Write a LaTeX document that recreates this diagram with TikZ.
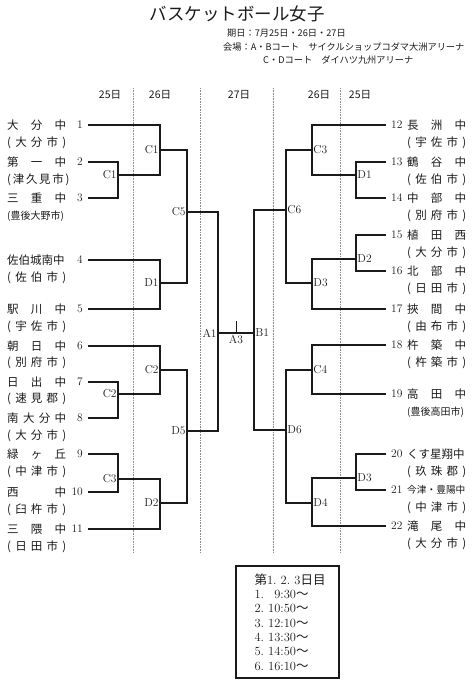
\documentclass[tikz,border=0pt]{standalone}
\usepackage{fontspec}
\newfontfamily\cjk{Noto Sans CJK JP}
\usetikzlibrary{positioning, calc}
\definecolor{ink}{HTML}{1A1A1A}
\definecolor{guide}{HTML}{8C8C8C}
\newcommand{\spreadname}[1]{\makebox[59pt][s]{#1}}

\begin{document}
\begin{tikzpicture}[x=1pt, y=-1pt,
  wire/.style={draw=ink, line width=1.3pt},
  dayline/.style={draw=guide, densely dotted, line width=0.6pt},
  num/.style={inner sep=0pt, font=\fontsize{11.5}{12}\selectfont, text=ink},
  team/.style={anchor=west, inner sep=0pt, font=\cjk\fontsize{11.5}{13}\selectfont, text=ink},
  smallcity/.style={team, font=\cjk\fontsize{10}{11}\selectfont},
  mleft/.style={anchor=east, inner sep=1.2pt, font=\fontsize{11.5}{12}\selectfont, text=ink},
  mright/.style={anchor=west, inner sep=1.2pt, font=\fontsize{11.5}{12}\selectfont, text=ink},
  day/.style={font=\cjk\fontsize{10.5}{12}\selectfont, text=ink},
  info/.style={anchor=west, inner sep=0pt, font=\cjk\fontsize{9.2}{11}\selectfont, text=ink},
  timebox/.style={draw=ink, line width=1.3pt, minimum width=103pt, minimum height=112pt,
                  text width=66pt, inner xsep=18.5pt, align=left,
                  font=\fontsize{12.5}{14.3}\selectfont, text=ink}
]
\useasboundingbox (0,0) rectangle (474,687);

\node[font=\cjk\fontsize{17.5}{20}\selectfont, text=ink] (title) at (237,14) {バスケットボール女子};
\node[info] (dates) at (227,33) {期日：7月25日・26日・27日};
\node[info] (venue1) at (223,47) {会場：A・Bコート　サイクルショップコダマ大洲アリーナ};
\node[info] (venue2) at (263,60) {C・Dコート　ダイハツ九州アリーナ};

\node[day] (d25l) at (110,95) {25日};
\node[day] (d26l) at (160,95) {26日};
\node[day] (d27) at (239,95) {27日};
\node[day] (d26r) at (319,95) {26日};
\node[day] (d25r) at (360,95) {25日};
\draw[dayline] (133,88) -- (133,553);
\draw[dayline] (200,88) -- (200,553);
\draw[dayline] (273,88) -- (273,553);
\draw[dayline] (340,88) -- (340,553);

\node[num, anchor=east] (t1) at (83,125) {1};
\node[team] (n1) at (7,125) {\spreadname{大 分 中}};
\node[team] (c1) at (7,143) {\spreadname{( 大 分 市 )}};
\node[num, anchor=east] (t2) at (83,162) {2};
\node[team] (n2) at (7,162) {\spreadname{第 一 中}};
\node[team] (c2) at (7,180) {\spreadname{( 津 久 見 市 )}};
\node[num, anchor=east] (t3) at (83,198) {3};
\node[team] (n3) at (7,198) {\spreadname{三 重 中}};
\node[smallcity] (c3) at (7,216) {(豊後大野市)};
\node[num, anchor=east] (t4) at (83,260) {4};
\node[team] (n4) at (7,260) {\spreadname{佐伯城南中}};
\node[team] (c4) at (7,278) {\spreadname{( 佐 伯 市 )}};
\node[num, anchor=east] (t5) at (83,309) {5};
\node[team] (n5) at (7,309) {\spreadname{駅 川 中}};
\node[team] (c5) at (7,327) {\spreadname{( 宇 佐 市 )}};
\node[num, anchor=east] (t6) at (83,346) {6};
\node[team] (n6) at (7,346) {\spreadname{朝 日 中}};
\node[team] (c6) at (7,363) {\spreadname{( 別 府 市 )}};
\node[num, anchor=east] (t7) at (83,382) {7};
\node[team] (n7) at (7,382) {\spreadname{日 出 中}};
\node[team] (c7) at (7,399) {\spreadname{( 速 見 郡 )}};
\node[num, anchor=east] (t8) at (83,418) {8};
\node[team] (n8) at (7,418) {\spreadname{南 大 分 中}};
\node[team] (c8) at (7,436) {\spreadname{( 大 分 市 )}};
\node[num, anchor=east] (t9) at (83,454) {9};
\node[team] (n9) at (7,454) {\spreadname{緑 ヶ 丘}};
\node[team] (c9) at (7,472) {\spreadname{( 中 津 市 )}};
\node[num, anchor=east] (t10) at (83,492) {10};
\node[team] (n10) at (7,492) {\spreadname{西 中}};
\node[team] (c10) at (7,510) {\spreadname{( 臼 杵 市 )}};
\node[num, anchor=east] (t11) at (83,529) {11};
\node[team] (n11) at (7,529) {\spreadname{三 隈 中}};
\node[team] (c11) at (7,547) {\spreadname{( 日 田 市 )}};

\node[num, anchor=west] (t12) at (391,125) {12};
\node[team] (n12) at (407,125) {\spreadname{長 洲 中}};
\node[team] (c12) at (407,143) {\spreadname{( 宇 佐 市 )}};
\node[num, anchor=west] (t13) at (391,162) {13};
\node[team] (n13) at (407,162) {\spreadname{鶴 谷 中}};
\node[team] (c13) at (407,180) {\spreadname{( 佐 伯 市 )}};
\node[num, anchor=west] (t14) at (391,198) {14};
\node[team] (n14) at (407,198) {\spreadname{中 部 中}};
\node[team] (c14) at (407,216) {\spreadname{( 別 府 市 )}};
\node[num, anchor=west] (t15) at (391,235) {15};
\node[team] (n15) at (407,235) {\spreadname{植 田 西}};
\node[team] (c15) at (407,253) {\spreadname{( 大 分 市 )}};
\node[num, anchor=west] (t16) at (391,271) {16};
\node[team] (n16) at (407,271) {\spreadname{北 部 中}};
\node[team] (c16) at (407,289) {\spreadname{( 日 田 市 )}};
\node[num, anchor=west] (t17) at (391,309) {17};
\node[team] (n17) at (407,309) {\spreadname{挾 間 中}};
\node[team] (c17) at (407,327) {\spreadname{( 由 布 市 )}};
\node[num, anchor=west] (t18) at (391,345) {18};
\node[team] (n18) at (407,345) {\spreadname{杵 築 中}};
\node[team] (c18) at (407,363) {\spreadname{( 杵 築 市 )}};
\node[num, anchor=west] (t19) at (391,394) {19};
\node[team] (n19) at (407,394) {\spreadname{高 田 中}};
\node[smallcity] (c19) at (407,412) {(豊後高田市)};
\node[num, anchor=west] (t20) at (391,454) {20};
\node[team] (n20) at (407,454) {\spreadname{くす星翔中}};
\node[team] (c20) at (407,472) {\spreadname{( 玖 珠 郡 )}};
\node[num, anchor=west] (t21) at (391,490) {21};
\node[team, font=\cjk\fontsize{9.7}{11}\selectfont] (n21) at (407,490) {今津・豊陽中};
\node[team] (c21) at (407,508) {\spreadname{( 中 津 市 )}};
\node[num, anchor=west] (t22) at (391,526) {22};
\node[team] (n22) at (407,526) {\spreadname{滝 尾 中}};
\node[team] (c22) at (407,544) {\spreadname{( 大 分 市 )}};

\node[mleft] (lC1a) at (118,175) {C1};
\node[mleft] (lC1b) at (160,150) {C1};
\node[mleft] (lD1) at (160,283) {D1};
\node[mleft] (lC5) at (187,212) {C5};
\node[mleft] (lC2a) at (118,394) {C2};
\node[mleft] (lC2b) at (160,370) {C2};
\node[mleft] (lC3) at (118,479) {C3};
\node[mleft] (lD2) at (160,503) {D2};
\node[mleft] (lD5) at (187,431) {D5};
\node[mleft] (A1) at (218,333) {A1};

\node[mright] (rD1) at (356,175) {D1};
\node[mright] (rC3) at (312,150) {C3};
\node[mright] (rD2) at (356,259) {D2};
\node[mright] (rD3a) at (312,283) {D3};
\node[mright] (rC6) at (286,210) {C6};
\node[mright] (rC4) at (312,370) {C4};
\node[mright] (rD3b) at (356,478) {D3};
\node[mright] (rD4) at (312,503) {D4};
\node[mright] (rD6) at (286,430) {D6};
\node[mright] (B1) at (254,333) {B1};

\coordinate (A3top) at (236,321);
\node[inner sep=1pt, anchor=north, font=\fontsize{11.5}{12}\selectfont, text=ink] (A3) at (236,334) {A3};

\draw[wire] ([xshift=5pt]t2.east) -| (lC1a.east) |- ([xshift=5pt]t3.east);
\draw[wire] ([xshift=5pt]t1.east) -| (lC1b.east) |- (lC1a.east);
\draw[wire] ([xshift=5pt]t4.east) -| (lD1.east) |- ([xshift=5pt]t5.east);
\draw[wire] (lC1b.east) -| (lC5.east) |- (lD1.east);
\draw[wire] ([xshift=5pt]t7.east) -| (lC2a.east) |- ([xshift=5pt]t8.east);
\draw[wire] ([xshift=5pt]t6.east) -| (lC2b.east) |- (lC2a.east);
\draw[wire] ([xshift=5pt]t9.east) -| (lC3.east) |- ([xshift=5pt]t10.east);
\draw[wire] (lC3.east) -| (lD2.east) |- ([xshift=5pt]t11.east);
\draw[wire] (lC2b.east) -| (lD5.east) |- (lD2.east);
\draw[wire] (lC5.east) -| (A1.east) |- (lD5.east);
\draw[wire] (A1.east) -- (B1.west);
\draw[wire, line width=1pt] (A3top) -- (A3top |- A1.east);

\draw[wire] ([xshift=-5pt]t13.west) -| (rD1.west) |- ([xshift=-5pt]t14.west);
\draw[wire] ([xshift=-5pt]t12.west) -| (rC3.west) |- (rD1.west);
\draw[wire] ([xshift=-5pt]t15.west) -| (rD2.west) |- ([xshift=-5pt]t16.west);
\draw[wire] (rD2.west) -| (rD3a.west) |- ([xshift=-5pt]t17.west);
\draw[wire] (rC3.west) -| (rC6.west) |- (rD3a.west);
\draw[wire] ([xshift=-5pt]t18.west) -| (rC4.west) |- ([xshift=-5pt]t19.west);
\draw[wire] ([xshift=-5pt]t20.west) -| (rD3b.west) |- ([xshift=-5pt]t21.west);
\draw[wire] (rD3b.west) -| (rD4.west) |- ([xshift=-5pt]t22.west);
\draw[wire] (rC4.west) -| (rD6.west) |- (rD4.west);
\draw[wire] (rC6.west) -| (B1.west) |- (rD6.west);

\node[timebox] (times) at (287.5,622) {{\cjk 第}1.~2.~3{\cjk 日目}\\
  1.~\phantom{1}9:30{\cjk ～}\\
  2.~10:50{\cjk ～}\\
  3.~12:10{\cjk ～}\\
  4.~13:30{\cjk ～}\\
  5.~14:50{\cjk ～}\\
  6.~16:10{\cjk ～}};
\end{tikzpicture}
\end{document}
